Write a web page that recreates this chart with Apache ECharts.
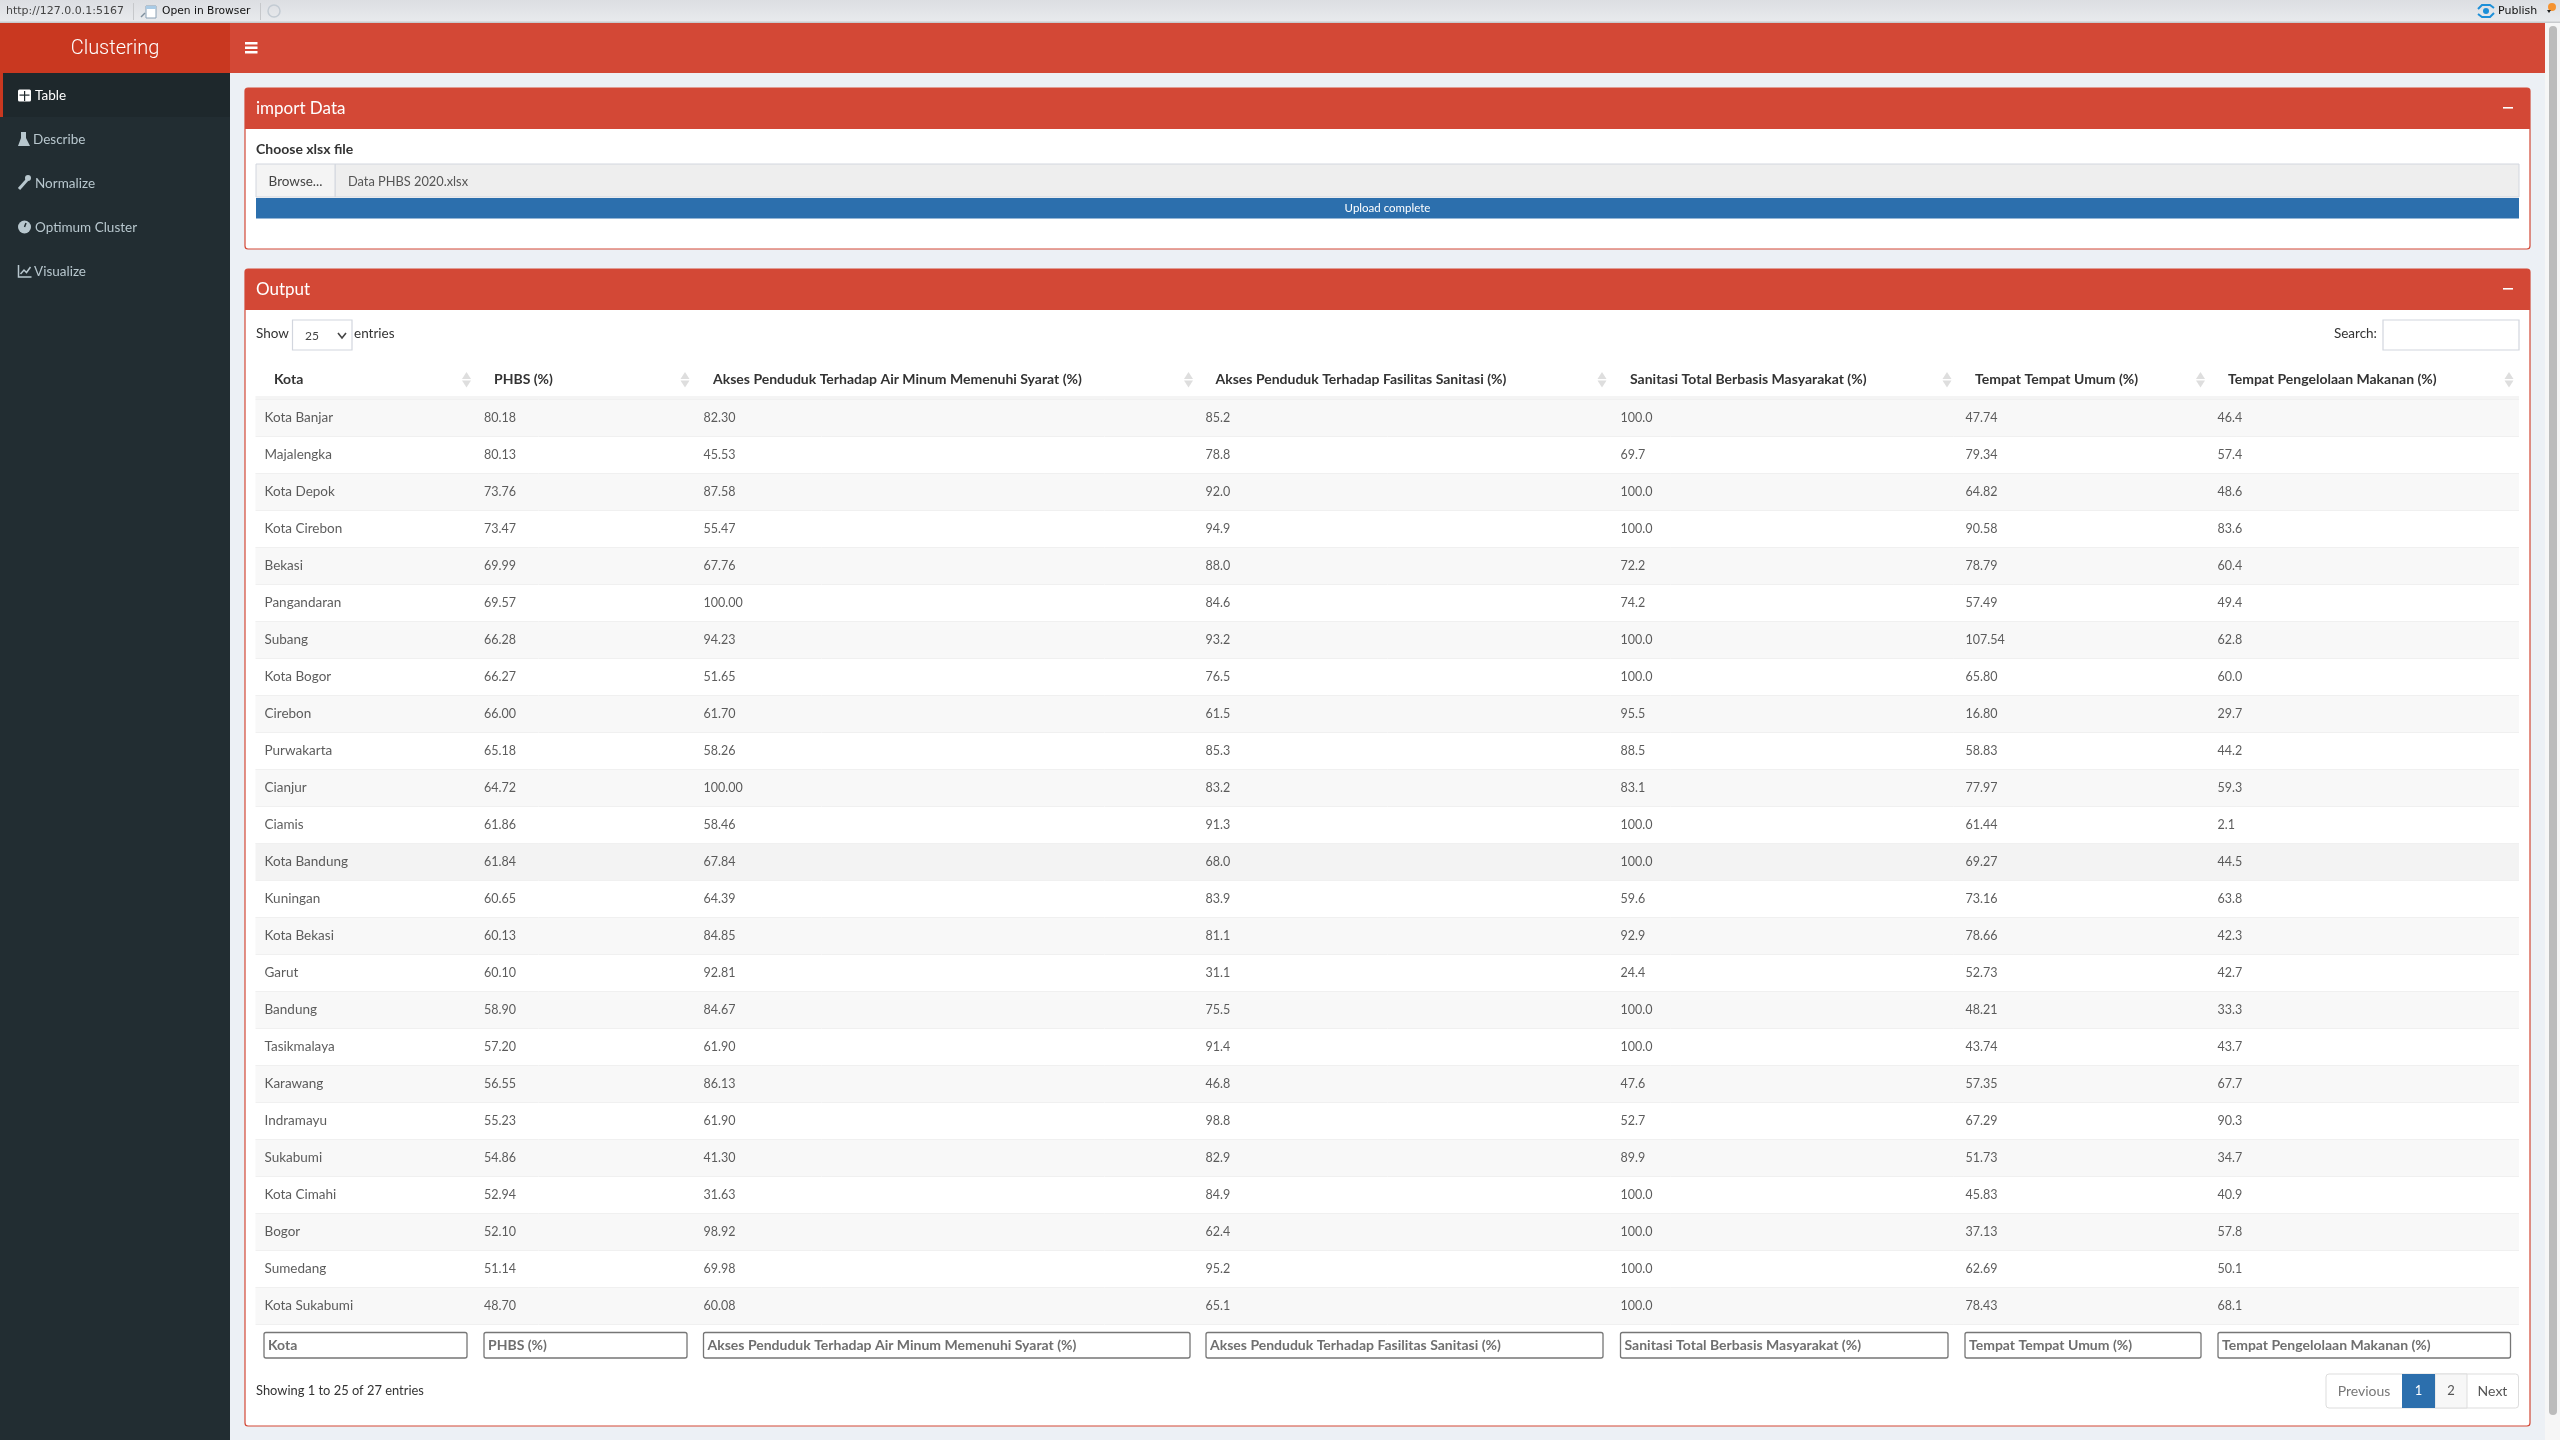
<!DOCTYPE html>
<html><head><meta charset="utf-8">
<style>html,body{margin:0;padding:0;background:#ecf0f5;overflow:hidden}#c{width:2560px;height:1440px}</style>
<script src="https://cdn.jsdelivr.net/npm/echarts@6/dist/echarts.min.js"></script>
</head><body><div id="c"></div>
<script>
const kota = ["Kota Banjar","Majalengka","Kota Depok","Kota Cirebon","Bekasi","Pangandaran","Subang","Kota Bogor","Cirebon","Purwakarta","Cianjur","Ciamis","Kota Bandung","Kuningan","Kota Bekasi","Garut","Bandung","Tasikmalaya","Karawang","Indramayu","Sukabumi","Kota Cimahi","Bogor","Sumedang","Kota Sukabumi"];
const phbs = [80.18,80.13,73.76,73.47,69.99,69.57,66.28,66.27,66.00,65.18,64.72,61.86,61.84,60.65,60.13,60.10,58.90,57.20,56.55,55.23,54.86,52.94,52.10,51.14,48.70];
const airMinum = [82.30,45.53,87.58,55.47,67.76,100.00,94.23,51.65,61.70,58.26,100.00,58.46,67.84,64.39,84.85,92.81,84.67,61.90,86.13,61.90,41.30,31.63,98.92,69.98,60.08];
const sanitasi = [85.2,78.8,92.0,94.9,88.0,84.6,93.2,76.5,61.5,85.3,83.2,91.3,68.0,83.9,81.1,31.1,75.5,91.4,46.8,98.8,82.9,84.9,62.4,95.2,65.1];
const stbm = [100.0,69.7,100.0,100.0,72.2,74.2,100.0,100.0,95.5,88.5,83.1,100.0,100.0,59.6,92.9,24.4,100.0,100.0,47.6,52.7,89.9,100.0,100.0,100.0,100.0];
const ttu = [47.74,79.34,64.82,90.58,78.79,57.49,107.54,65.80,16.80,58.83,77.97,61.44,69.27,73.16,78.66,52.73,48.21,43.74,57.35,67.29,51.73,45.83,37.13,62.69,78.43];
const tpm = [46.4,57.4,48.6,83.6,60.4,49.4,62.8,60.0,29.7,44.2,59.3,2.1,44.5,63.8,42.3,42.7,33.3,43.7,67.7,90.3,34.7,40.9,57.8,50.1,68.1];
const headers = ["Kota","PHBS (%)","Akses Penduduk Terhadap Air Minum Memenuhi Syarat (%)","Akses Penduduk Terhadap Fasilitas Sanitasi (%)","Sanitasi Total Berbasis Masyarakat (%)","Tempat Tempat Umum (%)","Tempat Pengelolaan Makanan (%)"];
const menuItems = ["Table","Describe","Normalize","Optimum Cluster","Visualize"];

// layout (page pixels)
const TABLE_L = 255.5, TABLE_R = 2519;
const HOVER_ROW = "Kota Bandung";
const cellX = [264,483.5,703,1205,1620,1965,2217];
const headX = [274,494,713,1215.5,1630,1975,2228];
const sortX = [466.5,685,1188.5,1602,1947,2200.5,2509];
const filterBox = [[264,467],[484,687],[703.5,1190],[1206,1603],[1620.5,1948],[1965,2201],[2218,2510.5]];
const FF = 'Lato, "Noto Sans", sans-serif';
const RED = '#d34836', BLUE = '#2c6fad';

const g = [];
const R = (x,y,w,h,fill,o={}) => g.push({type:'rect',z:o.z??-5,shape:{x,y,width:w,height:h,r:o.r||0},style:{fill,stroke:o.stroke||null,lineWidth:o.lw||0},silent:true});
const T = (x,y,text,o={}) => g.push({type:'text',z:5,style:{x,y,text,fill:o.fill||'#333',font:`${o.weight||'normal'} ${o.size||13.5}px ${o.ff||FF}`,align:o.align||'left',verticalAlign:'middle'},silent:true});
const P = (pts,fill) => g.push({type:'polygon',z:5,shape:{points:pts},style:{fill},silent:true});
const L = (pts,stroke,lw=1.5) => g.push({type:'polyline',z:5,shape:{points:pts},style:{stroke,lineWidth:lw,fill:null},silent:true});
const C = (cx,cy,r,fill,stroke) => g.push({type:'circle',z:5,shape:{cx,cy,r},style:{fill,stroke:stroke||null,lineWidth:stroke?1.5:0},silent:true});

// top strip
g.push({type:'rect',z:-5,shape:{x:0,y:0,width:2560,height:23},style:{fill:new echarts.graphic.LinearGradient(0,0,0,1,[{offset:0,color:'#dcdee2'},{offset:1,color:'#e9ebee'}])},silent:true});
R(0,21.5,2560,1.5,'#c9cbce',{z:-4});
T(6,11,'http://127.0.0.1:5167',{ff:'"DejaVu Sans"',size:11,fill:'#444'});
R(133,3,1,17,'#c6c8cb',{z:-4});
R(146,6,10,12,'#fff',{stroke:'#8aa0b4',lw:1,z:-4}); R(146,6,10,3,'#a9cbe6',{z:-4}); L([[141,17],[145,13]],'#7f8f9d',1.5);
T(162,11,'Open in Browser',{ff:'"DejaVu Sans"',size:10.7,fill:'#111'});
R(260,3,1,17,'#c6c8cb',{z:-4});
C(274,11,6,'none','#c3cbd3');
T(2498,11,'Publish',{ff:'"DejaVu Sans"',size:11,fill:'#111'});
C(2486,11,3,'#1c8fd8'); L([[2478,9],[2482,5],[2490,5],[2494,8]],'#1c8fd8',2); L([[2478,14],[2482,17],[2490,17],[2494,13]],'#1c8fd8',2);
C(2552,7,4,'#f59331'); P([[2547,10],[2551,10],[2549,13]],'#222');

// header + sidebar
R(0,23,230,50,'#c93820');
R(230,23,2315,50,RED);
T(115,49,'Clustering',{ff:'Roboto, "Liberation Sans"',weight:300,size:20,fill:'#fff',align:'center'});
[42,46.5,51].forEach(y=>R(245,y,12.5,2.5,'#fff',{z:5}));
R(0,73,230,1367,'#222d32');
R(0,73,230,44,'#1e282c',{z:-4});
R(0,73,3,44,'#c93820',{z:-3});
const menuTextX = [35,33,35,35,34];
menuItems.forEach((m,i)=>T(menuTextX[i],96+44*i,m,{fill:i?'#b8c7ce':'#fff'}));
// menu icons
R(18,89.5,13,12,'#fff',{r:1.5,z:5}); R(19.5,94.5,10,1.2,'#1e282c',{z:6}); R(24,91,1.2,10,'#1e282c',{z:6});
P([[21,132],[26,132],[26,138],[30,146],[18,146],[21,138]],'#b8c7ce');
L([[19,189],[27,180]],'#b8c7ce',3); C(28,178,3,'#b8c7ce');
C(24.5,227,6.5,'#b8c7ce'); L([[24.5,227],[26,223]],'#222d32',1.5);
L([[18.5,265],[18.5,277],[31.5,277]],'#b8c7ce',1.5); L([[20.5,274],[24,270],[26.5,272.5],[30.5,267]],'#b8c7ce',1.5);

// scrollbar
R(2545,23,15,1417,'#f6f6f6'); R(2549,26,8,1389,'#bcbcbc',{r:4});

// boxes
function box(y,h,title){
  R(245,y,2285,h,'#fff',{stroke:RED,lw:1.2,r:3});
  R(245,y,2285,41,RED,{r:[3,3,0,0]});
  T(256,y+21,title,{size:17,fill:'#fff'});
  R(2503,y+19,10,1.6,'#fff',{z:5});
}
box(88,161,'import Data');
box(269,1157,'Output');

// import box content
T(256,149,'Choose xlsx file',{weight:'bold',size:14});
R(335,164,2184,33,'#eeeeee',{stroke:'#d2d6de',lw:1});
R(256,164,79,33,'#f4f4f4',{stroke:'#d2d6de',lw:1});
T(295.5,182,'Browse...',{align:'center',fill:'#444'});
T(348,182,'Data PHBS 2020.xlsx',{fill:'#555',size:12.8});
R(256,198,2263,20.5,BLUE);
T(1387.5,208,'Upload complete',{size:11.5,fill:'#fff',align:'center'});

// table controls
T(256,334,'Show'); T(354,334,'entries');
R(292.5,320,59.5,30,'#fff',{stroke:'#d2d6de',lw:1.2});
T(305,336,'25',{size:12,fill:'#444'});
L([[338,333],[342,338],[346,333]],'#444',1.6);
T(2377,334,'Search:',{align:'right'});
R(2383,320,136,30,'#fff',{stroke:'#d2d6de',lw:1.2});

// header row
R(TABLE_L,396,TABLE_R-TABLE_L,3,'#f4f4f4',{z:-4});
headers.forEach((h,i)=>{
  T(headX[i],379,h,{weight:'bold',size:14});
  P([[sortX[i]-4.5,379],[sortX[i]+4.5,379],[sortX[i],372]],'#dedede');
  P([[sortX[i]-4.5,380.5],[sortX[i]+4.5,380.5],[sortX[i],387.5]],'#dedede');
  const b = filterBox[i];
  R(b[0],1332.5,b[1]-b[0],25.5,'#fff',{stroke:'#767676',lw:1.3,r:2});
  T(b[0]+4,1345.5,h,{weight:'bold',fill:'#6f6f6f',size:14});
});

// footer
T(256,1391,'Showing 1 to 25 of 27 entries',{size:12.9});
R(2326,1374,192.5,34,'#fff',{stroke:'#ddd',lw:1,r:3});
R(2435,1374,32,34,'#f7f7f7',{stroke:'#ddd',lw:1});
R(2402,1374,33,34,BLUE);
T(2364,1391,'Previous',{fill:'#777',align:'center',size:14});
T(2418.5,1391,'1',{fill:'#fff',align:'center',size:13});
T(2451,1391,'2',{fill:'#555',align:'center',size:13});
T(2492.5,1391,'Next',{fill:'#555',align:'center',size:14});

// table cells through cartesian scales
const fmt = (arr,d)=>arr.map(v=>v.toFixed(d));
const columns = [kota,fmt(phbs,2),fmt(airMinum,2),fmt(sanitasi,1),fmt(stbm,1),fmt(ttu,2),fmt(tpm,1)];
const series = columns.map((col,c)=>({
  type:'scatter',symbolSize:1,itemStyle:{color:'transparent'},silent:true,
  data:col.map((txt,i)=>[cellX[c]-TABLE_L,kota[i],txt]),
  label:{show:true,position:'right',distance:0,color:'#333',fontFamily:FF,fontSize:c?12.5:13.5,formatter:p=>p.value[2]}
}));
const rowFill = kota.map((k,i)=>k===HOVER_ROW?'#f3f3f3':(i%2?'#ffffff':'#f8f8f8'));

const chart = echarts.init(document.getElementById('c'),null,{renderer:'canvas'});
chart.setOption({
  animation:false,backgroundColor:'#ecf0f5',tooltip:{show:false},
  grid:{left:TABLE_L,width:TABLE_R-TABLE_L,top:399,height:925,containLabel:false},
  xAxis:{type:'value',min:0,max:TABLE_R-TABLE_L,show:false},
  yAxis:{type:'category',inverse:true,data:kota,boundaryGap:true,
    axisLine:{show:false},axisTick:{show:false},axisLabel:{show:false},
    splitLine:{show:true,lineStyle:{color:'#f0f0f0',width:1}},
    splitArea:{show:true,areaStyle:{color:rowFill}}},
  graphic:{elements:g},
  series
});
</script></body></html>
